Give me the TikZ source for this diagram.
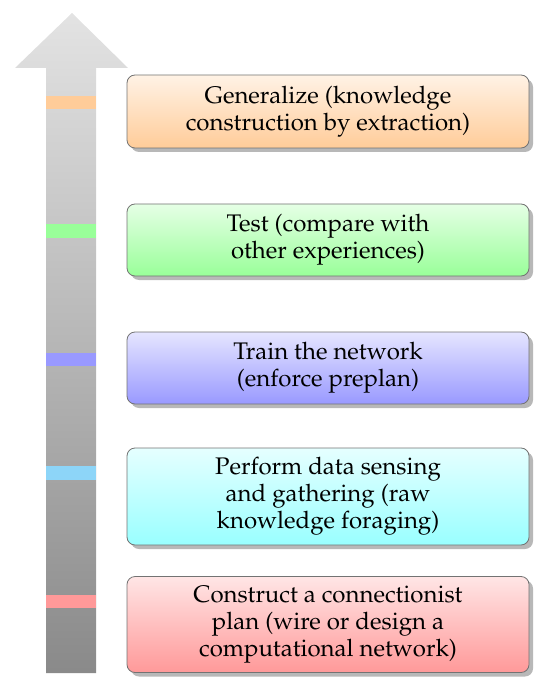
\documentclass[tikz,border=0pt]{standalone}
\usepackage[T1]{fontenc}
\usepackage{mathpazo}
\usetikzlibrary{shadows}
\definecolor{skybar}{RGB}{141,213,248}
\tikzset{
  stagebox/.style={draw=black!55, line width=0.8pt, rounded corners=8pt,
    minimum width=402pt, align=center, inner sep=0pt,
    font=\fontsize{24}{27}\selectfont,
    drop shadow={shadow xshift=4pt, shadow yshift=-4pt, fill=black!28, opacity=1}}
}
\begin{document}
\begin{tikzpicture}[x=1pt,y=-1pt]
\useasboundingbox (0,0) rectangle (550,692);
% big arrow
\shade[top color=gray!22, bottom color=gray!92]
  (46,673) -- (46,68) -- (15,68) -- (72,13) -- (128,68) -- (96,68) -- (96,673) -- cycle;
% coloured bars
\fill[orange!40] (46,96) rectangle (96,109);
\fill[green!40]  (46,224) rectangle (96,238);
\fill[blue!40]   (46,353) rectangle (96,366);
\fill[skybar]    (46,466) rectangle (96,480);
\fill[red!40]    (46,595) rectangle (96,608);
% boxes
\node[stagebox, top color=orange!10, bottom color=orange!40, minimum height=73pt] (gen) at (328,111.5)
  {Generalize (knowledge\\construction by extraction)};
\node[stagebox, top color=green!10, bottom color=green!40, minimum height=72pt] (test) at (328,240)
  {Test (compare with\\other experiences)};
\node[stagebox, top color=blue!10, bottom color=blue!40, minimum height=72pt] (train) at (328,368)
  {Train the network\\(enforce preplan)};
\node[stagebox, top color=cyan!10, bottom color=cyan!40, minimum height=97pt] (sense) at (328,496.5)
  {Perform data sensing\\and gathering (raw\\knowledge foraging)};
\node[stagebox, top color=red!10, bottom color=red!40, minimum height=96pt] (plan) at (328,624.5)
  {Construct a connectionist\\plan (wire or design a\\computational network)};
\end{tikzpicture}
\end{document}
